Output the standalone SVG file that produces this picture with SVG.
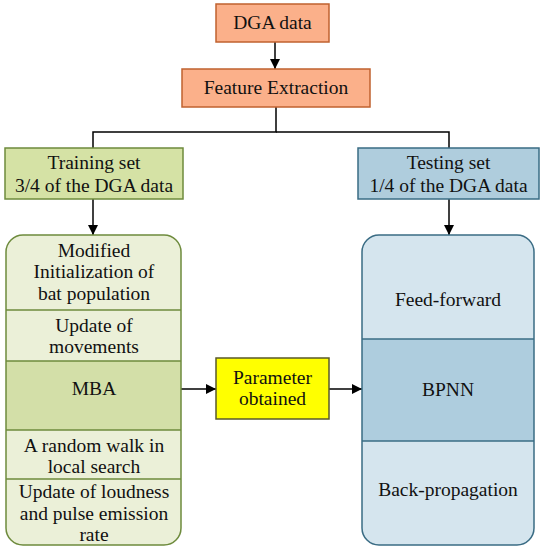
<svg xmlns="http://www.w3.org/2000/svg" width="540" height="550" viewBox="0 0 540 550">
<defs>
<marker id="ah" viewBox="0 0 10 10" refX="10" refY="5" markerWidth="10" markerHeight="10" markerUnits="userSpaceOnUse" orient="auto">
<path d="M0,0 L10,5 L0,10 z" fill="#000"/>
</marker>
</defs>
<style>
text{font-family:"Liberation Serif","DejaVu Serif",serif;font-size:19.5px;fill:#111;text-anchor:middle}
.or{fill:#FBB08A;stroke:#C0622F;stroke-width:1.5}
.gr{fill:#D5E2A5;stroke:#6E8B3D;stroke-width:1.5}
.bl{fill:#AFCDDD;stroke:#3A6C84;stroke-width:1.5}
.gl{fill:#EBF0D8}
.gd{fill:#D3DFA8}
.bll{fill:#D5E5EE}
.bld{fill:#AECDDE}
.gline{stroke:#6E8B3D;stroke-width:1.5}
.bline{stroke:#3A6C84;stroke-width:1.5}
.yl{fill:#FFFF00;stroke:#5A5A2A;stroke-width:1.5}
.c{fill:none;stroke:#000;stroke-width:1.5}
</style>
<g id="connectors">
<line class="c" x1="275" y1="42" x2="275" y2="69" marker-end="url(#ah)"/>
<polyline class="c" points="276,107 276,132 93,132 93,148"/>
<polyline class="c" points="276,132 449,132 449,148"/>
<line class="c" x1="93" y1="199" x2="93" y2="235" marker-end="url(#ah)"/>
<line class="c" x1="449" y1="199" x2="449" y2="235" marker-end="url(#ah)"/>
<line class="c" x1="181" y1="389" x2="216" y2="389" marker-end="url(#ah)"/>
<line class="c" x1="329" y1="389" x2="362" y2="389" marker-end="url(#ah)"/>
</g>
<g id="dga">
<rect class="or" x="216" y="4" width="113" height="38"/>
<text x="272.5" y="29">DGA data</text>
</g>
<g id="feature">
<rect class="or" x="182" y="69" width="188" height="38"/>
<text x="276" y="94">Feature Extraction</text>
</g>
<g id="training">
<rect class="gr" x="5" y="148" width="178" height="51"/>
<text x="94" y="169">Training set</text>
<text x="94" y="192">3/4 of the DGA data</text>
</g>
<g id="testing">
<rect class="bl" x="358" y="148" width="181" height="51"/>
<text x="448.5" y="169">Testing set</text>
<text x="448.5" y="192">1/4 of the DGA data</text>
</g>
<g id="mba">
<clipPath id="cl"><rect x="6" y="235" width="175" height="310" rx="17"/></clipPath>
<g clip-path="url(#cl)">
<rect class="gl" x="6" y="235" width="175" height="310"/>
<rect class="gd" x="6" y="361" width="175" height="69"/>
</g>
<line class="gline" x1="6" y1="310" x2="181" y2="310"/>
<line class="gline" x1="6" y1="361" x2="181" y2="361"/>
<line class="gline" x1="6" y1="430" x2="181" y2="430"/>
<line class="gline" x1="6" y1="479" x2="181" y2="479"/>
<rect x="6" y="235" width="175" height="310" rx="17" fill="none" stroke="#6E8B3D" stroke-width="1.5"/>
<text x="94" y="257">Modified</text>
<text x="94" y="278">Initialization of</text>
<text x="94" y="300">bat population</text>
<text x="94" y="332">Update of</text>
<text x="94" y="353">movements</text>
<text x="94" y="395">MBA</text>
<text x="94" y="452">A random walk in</text>
<text x="94" y="473">local search</text>
<text x="94" y="498">Update of loudness</text>
<text x="94" y="520">and pulse emission</text>
<text x="94" y="541">rate</text>
</g>
<g id="parameter">
<rect class="yl" x="216" y="358" width="113" height="61"/>
<text x="272.5" y="384">Parameter</text>
<text x="272.5" y="405">obtained</text>
</g>
<g id="bpnn">
<clipPath id="cr"><rect x="362" y="235" width="172" height="310" rx="17"/></clipPath>
<g clip-path="url(#cr)">
<rect class="bll" x="362" y="235" width="172" height="310"/>
<rect class="bld" x="362" y="339" width="172" height="102"/>
</g>
<line class="bline" x1="362" y1="339" x2="534" y2="339"/>
<line class="bline" x1="362" y1="441" x2="534" y2="441"/>
<rect x="362" y="235" width="172" height="310" rx="17" fill="none" stroke="#3A6C84" stroke-width="1.5"/>
<text x="448" y="306">Feed-forward</text>
<text x="448" y="396">BPNN</text>
<text x="448" y="496">Back-propagation</text>
</g>
</svg>
